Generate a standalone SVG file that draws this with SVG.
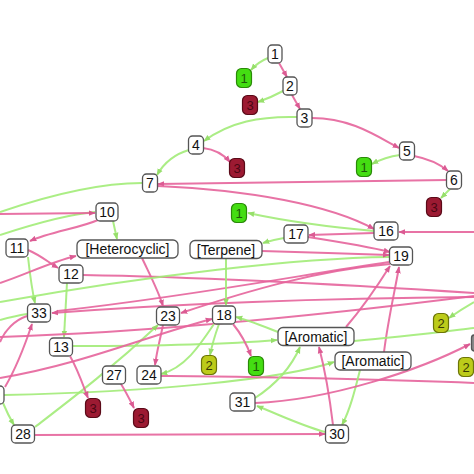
<svg xmlns="http://www.w3.org/2000/svg" width="474" height="474" viewBox="0 0 474 474">
<defs>
<style>
.g{fill:none;stroke:#a2ec78;stroke-width:2;opacity:.9}
.p{fill:none;stroke:#e6649c;stroke-width:2;opacity:.9}
.ga{marker-end:url(#ag)}
.pa{marker-end:url(#ap)}
.n rect{fill:#fff;stroke:#555;stroke-width:1.3}
.n text{font-family:"Liberation Sans",Arial,sans-serif;font-size:14px;fill:#111;text-anchor:middle;dominant-baseline:central}
.cg rect{fill:#44dd12;stroke:#2a8a08;stroke-width:1.2}
.cr rect{fill:#9c1a32;stroke:#5a0a18;stroke-width:1.2}
.cy rect{fill:#bccb1a;stroke:#6c7508;stroke-width:1.2}
.c text{font-family:"Liberation Sans",Arial,sans-serif;font-size:13px;text-anchor:middle;dominant-baseline:central}
.cg text{fill:#1e5a08}.cr text{fill:#4a0612}.cy text{fill:#3a3a05}
</style>
<marker id="ag" viewBox="0 0 10 10" refX="9" refY="5" markerWidth="7" markerHeight="7" markerUnits="userSpaceOnUse" orient="auto"><path d="M0,1L10,5L0,9z" fill="#8cdc5c"/></marker>
<marker id="ap" viewBox="0 0 10 10" refX="9" refY="5" markerWidth="7" markerHeight="7" markerUnits="userSpaceOnUse" orient="auto"><path d="M0,1L10,5L0,9z" fill="#d84a88"/></marker>
</defs>
<rect width="474" height="474" fill="#fff"/>
<g id="connectors">
<path class="p pa" d="M279,63 Q283,70 287,77"/>
<path class="g ga" d="M268,58 Q258,62 251,70"/>
<path class="g ga" d="M283,91 Q270,98 258,102"/>
<path class="p pa" d="M292,95 Q296,102 300,109"/>
<path class="g ga" d="M297,117 C260,116 230,122 204,141"/>
<path class="p pa" d="M312,118 C350,118 375,135 399,148"/>
<path class="g ga" d="M400,155 Q385,157 372,164"/>
<path class="p pa" d="M414,156 Q435,160 448,171"/>
<path class="g ga" d="M450,189 L441,198"/>
<path class="p pa" d="M203,148 Q220,150 230,162"/>
<path class="g ga" d="M189,150 Q168,156 157,175"/>
<path class="g" d="M142,183 C100,183 50,195 0,212"/>
<path class="p pa" d="M447,180 L158,184"/>
<path class="p pa" d="M158,186 C250,190 330,205 374,229"/>
<path class="g" d="M0,235 C40,222 70,214 95,212"/>
<path class="p pa" d="M0,214 L95,213"/>
<path class="p pa" d="M98,220 C80,228 50,232 30,241"/>
<path class="g ga" d="M113,221 L117,239"/>
<path class="p pa" d="M28,250 C40,255 48,262 58,268"/>
<path class="g ga" d="M28,257 C30,275 32,290 35,303"/>
<path class="p pa" d="M0,283 C25,275 50,262 76,256"/>
<path class="p pa" d="M142,258 C150,275 158,290 163,306"/>
<path class="g ga" d="M67,283 C66,300 65,320 64,337"/>
<path class="p" d="M83,275 C200,277 350,285 474,293"/>
<path class="p pa" d="M474,297 C350,298 200,302 52,313"/>
<path class="p pa" d="M390,264 C320,270 250,290 181,313"/>
<path class="p" d="M389,262 C300,275 200,295 58,311"/>
<path class="p" d="M0,337 C150,332 300,318 474,296"/>
<path class="g" d="M389,257 C300,258 150,275 0,302"/>
<path class="p pa" d="M262,251 C300,252 350,254 389,255"/>
<path class="p pa" d="M308,237 C340,242 370,247 390,252"/>
<path class="g ga" d="M374,231 C340,228 290,222 248,213"/>
<path class="p pa" d="M374,233 L309,235"/>
<path class="g ga" d="M284,238 Q272,240 263,243"/>
<path class="p pa" d="M474,232 L399,232"/>
<path class="g ga" d="M226,259 L226,305"/>
<path class="p pa" d="M384,352 C388,320 395,290 399,267"/>
<path class="p pa" d="M346,327 C365,305 378,285 390,266"/>
<path class="p pa" d="M163,325 C160,340 157,350 155,365"/>
<path class="g ga" d="M35,427 C70,400 110,370 158,325"/>
<path class="g ga" d="M3,403 Q8,415 14,425"/>
<path class="p pa" d="M35,435 L325,434"/>
<path class="g ga" d="M4,395 C150,392 280,380 334,362"/>
<path class="g ga" d="M73,346 C150,346 230,344 277,340"/>
<path class="g" d="M354,341 C400,337 440,332 474,328"/>
<path class="g ga" d="M474,302 Q460,310 449,318"/>
<path class="g ga" d="M278,332 C260,325 248,320 236,317"/>
<path class="p pa" d="M233,324 C242,335 247,345 251,356"/>
<path class="g ga" d="M219,324 C215,335 212,345 210,355"/>
<path class="g ga" d="M214,324 C200,345 185,368 161,374"/>
<path class="p pa" d="M0,378 C80,365 150,335 212,319"/>
<path class="p" d="M161,376 C250,377 350,378 474,383"/>
<path class="p pa" d="M70,356 C78,370 83,385 88,398"/>
<path class="p pa" d="M121,384 C126,392 130,400 134,408"/>
<path class="p pa" d="M333,425 C330,400 325,370 319,347"/>
<path class="g ga" d="M360,370 C355,390 350,410 342,425"/>
<path class="g ga" d="M325,432 C300,425 280,415 257,406"/>
<path class="g ga" d="M255,398 C275,385 290,370 300,347"/>
<path class="p pa" d="M255,403 C330,400 420,370 470,344"/>
<path class="g" d="M0,320 Q15,316 27,314"/>
<path class="p pa" d="M5,387 C15,370 25,345 32,324"/>
<path class="p" d="M27,316 C15,320 5,330 0,342"/>
</g>
<g id="n1" class="n"><rect x="268" y="45" width="14" height="18" rx="4"/><text x="275" y="54">1</text></g>
<g id="n2" class="n"><rect x="283" y="77" width="14" height="18" rx="4"/><text x="290" y="86">2</text></g>
<g id="n3" class="n"><rect x="297" y="109" width="15" height="18" rx="4"/><text x="304.5" y="118">3</text></g>
<g id="n4" class="n"><rect x="188.5" y="136" width="15" height="18" rx="4"/><text x="196" y="145">4</text></g>
<g id="n5" class="n"><rect x="399.5" y="142" width="15" height="18" rx="4"/><text x="407" y="151">5</text></g>
<g id="n6" class="n"><rect x="446.5" y="171" width="15" height="18" rx="4"/><text x="454" y="180">6</text></g>
<g id="n7" class="n"><rect x="142.5" y="174" width="15" height="18" rx="4"/><text x="150" y="183">7</text></g>
<g id="n10" class="n"><rect x="96" y="203" width="22" height="18" rx="4"/><text x="107" y="212">10</text></g>
<g id="n11" class="n"><rect x="6" y="239" width="22" height="18" rx="4"/><text x="17" y="248">11</text></g>
<g id="n12" class="n"><rect x="59" y="265" width="24" height="18" rx="4"/><text x="71" y="274">12</text></g>
<g id="n13" class="n"><rect x="49.5" y="338" width="23" height="18" rx="4"/><text x="61" y="347">13</text></g>
<g id="n16" class="n"><rect x="374" y="222" width="24" height="18" rx="4"/><text x="386" y="231">16</text></g>
<g id="n17" class="n"><rect x="284" y="225" width="24" height="18" rx="4"/><text x="296" y="234">17</text></g>
<g id="n19" class="n"><rect x="389.5" y="247" width="23" height="18" rx="4"/><text x="401" y="256">19</text></g>
<g id="n18" class="n"><rect x="212.5" y="306" width="23" height="18" rx="4"/><text x="224" y="315">18</text></g>
<g id="n23" class="n"><rect x="156.5" y="307" width="23" height="18" rx="4"/><text x="168" y="316">23</text></g>
<g id="n33" class="n"><rect x="27.5" y="304" width="23" height="18" rx="4"/><text x="39" y="313">33</text></g>
<g id="n24" class="n"><rect x="137" y="366" width="24" height="18" rx="4"/><text x="149" y="375">24</text></g>
<g id="n27" class="n"><rect x="102.5" y="366" width="23" height="18" rx="4"/><text x="114" y="375">27</text></g>
<g id="n28" class="n"><rect x="11.5" y="425" width="23" height="18" rx="4"/><text x="23" y="434">28</text></g>
<g id="n30" class="n"><rect x="325.5" y="425" width="23" height="18" rx="4"/><text x="337" y="434">30</text></g>
<g id="n31" class="n"><rect x="230" y="393" width="25" height="18" rx="4"/><text x="242.5" y="402">31</text></g>
<g id="nleft" class="n"><rect x="-20" y="386" width="24" height="18" rx="4"/></g>
<g id="nright" class="n"><rect x="471.5" y="335" width="20" height="16" rx="3" style="fill:#8a8a8a;stroke:#555"/></g>
<g id="het" class="n"><rect x="77" y="240" width="101" height="18" rx="5"/><text x="127.5" y="249">[Heterocyclic]</text></g>
<g id="ter" class="n"><rect x="190" y="240.5" width="72" height="18" rx="5"/><text x="226" y="249.5">[Terpene]</text></g>
<g id="aro1" class="n"><rect x="278" y="327.5" width="76" height="18" rx="5"/><text x="316" y="336.5">[Aromatic]</text></g>
<g id="aro2" class="n"><rect x="335" y="352" width="76" height="18" rx="5"/><text x="373" y="361">[Aromatic]</text></g>
<g id="g1a" class="c cg"><rect x="236.5" y="68.5" width="15" height="19" rx="5"/><text x="244" y="78">1</text></g>
<g id="g1b" class="c cg"><rect x="356.5" y="157.5" width="15" height="19" rx="5"/><text x="364" y="167">1</text></g>
<g id="g1c" class="c cg"><rect x="231.5" y="203.5" width="15" height="19" rx="5"/><text x="239" y="213">1</text></g>
<g id="g1d" class="c cg"><rect x="248.5" y="356.5" width="15" height="19" rx="5"/><text x="256" y="366">1</text></g>
<g id="r3a" class="c cr"><rect x="242.5" y="95.5" width="15" height="19" rx="5"/><text x="250" y="105">3</text></g>
<g id="r3b" class="c cr"><rect x="229.5" y="158.5" width="15" height="19" rx="5"/><text x="237" y="168">3</text></g>
<g id="r3c" class="c cr"><rect x="426.5" y="197.5" width="15" height="19" rx="5"/><text x="434" y="207">3</text></g>
<g id="r3d" class="c cr"><rect x="85.5" y="398.5" width="15" height="19" rx="5"/><text x="93" y="408">3</text></g>
<g id="r3e" class="c cr"><rect x="133.5" y="408.5" width="15" height="19" rx="5"/><text x="141" y="418">3</text></g>
<g id="y2a" class="c cy"><rect x="433.5" y="313.5" width="15" height="19" rx="5"/><text x="441" y="323">2</text></g>
<g id="y2b" class="c cy"><rect x="201.5" y="355.5" width="15" height="19" rx="5"/><text x="209" y="365">2</text></g>
<g id="y2c" class="c cy"><rect x="458.5" y="357.5" width="15" height="19" rx="5"/><text x="466" y="367">2</text></g>
</svg>
